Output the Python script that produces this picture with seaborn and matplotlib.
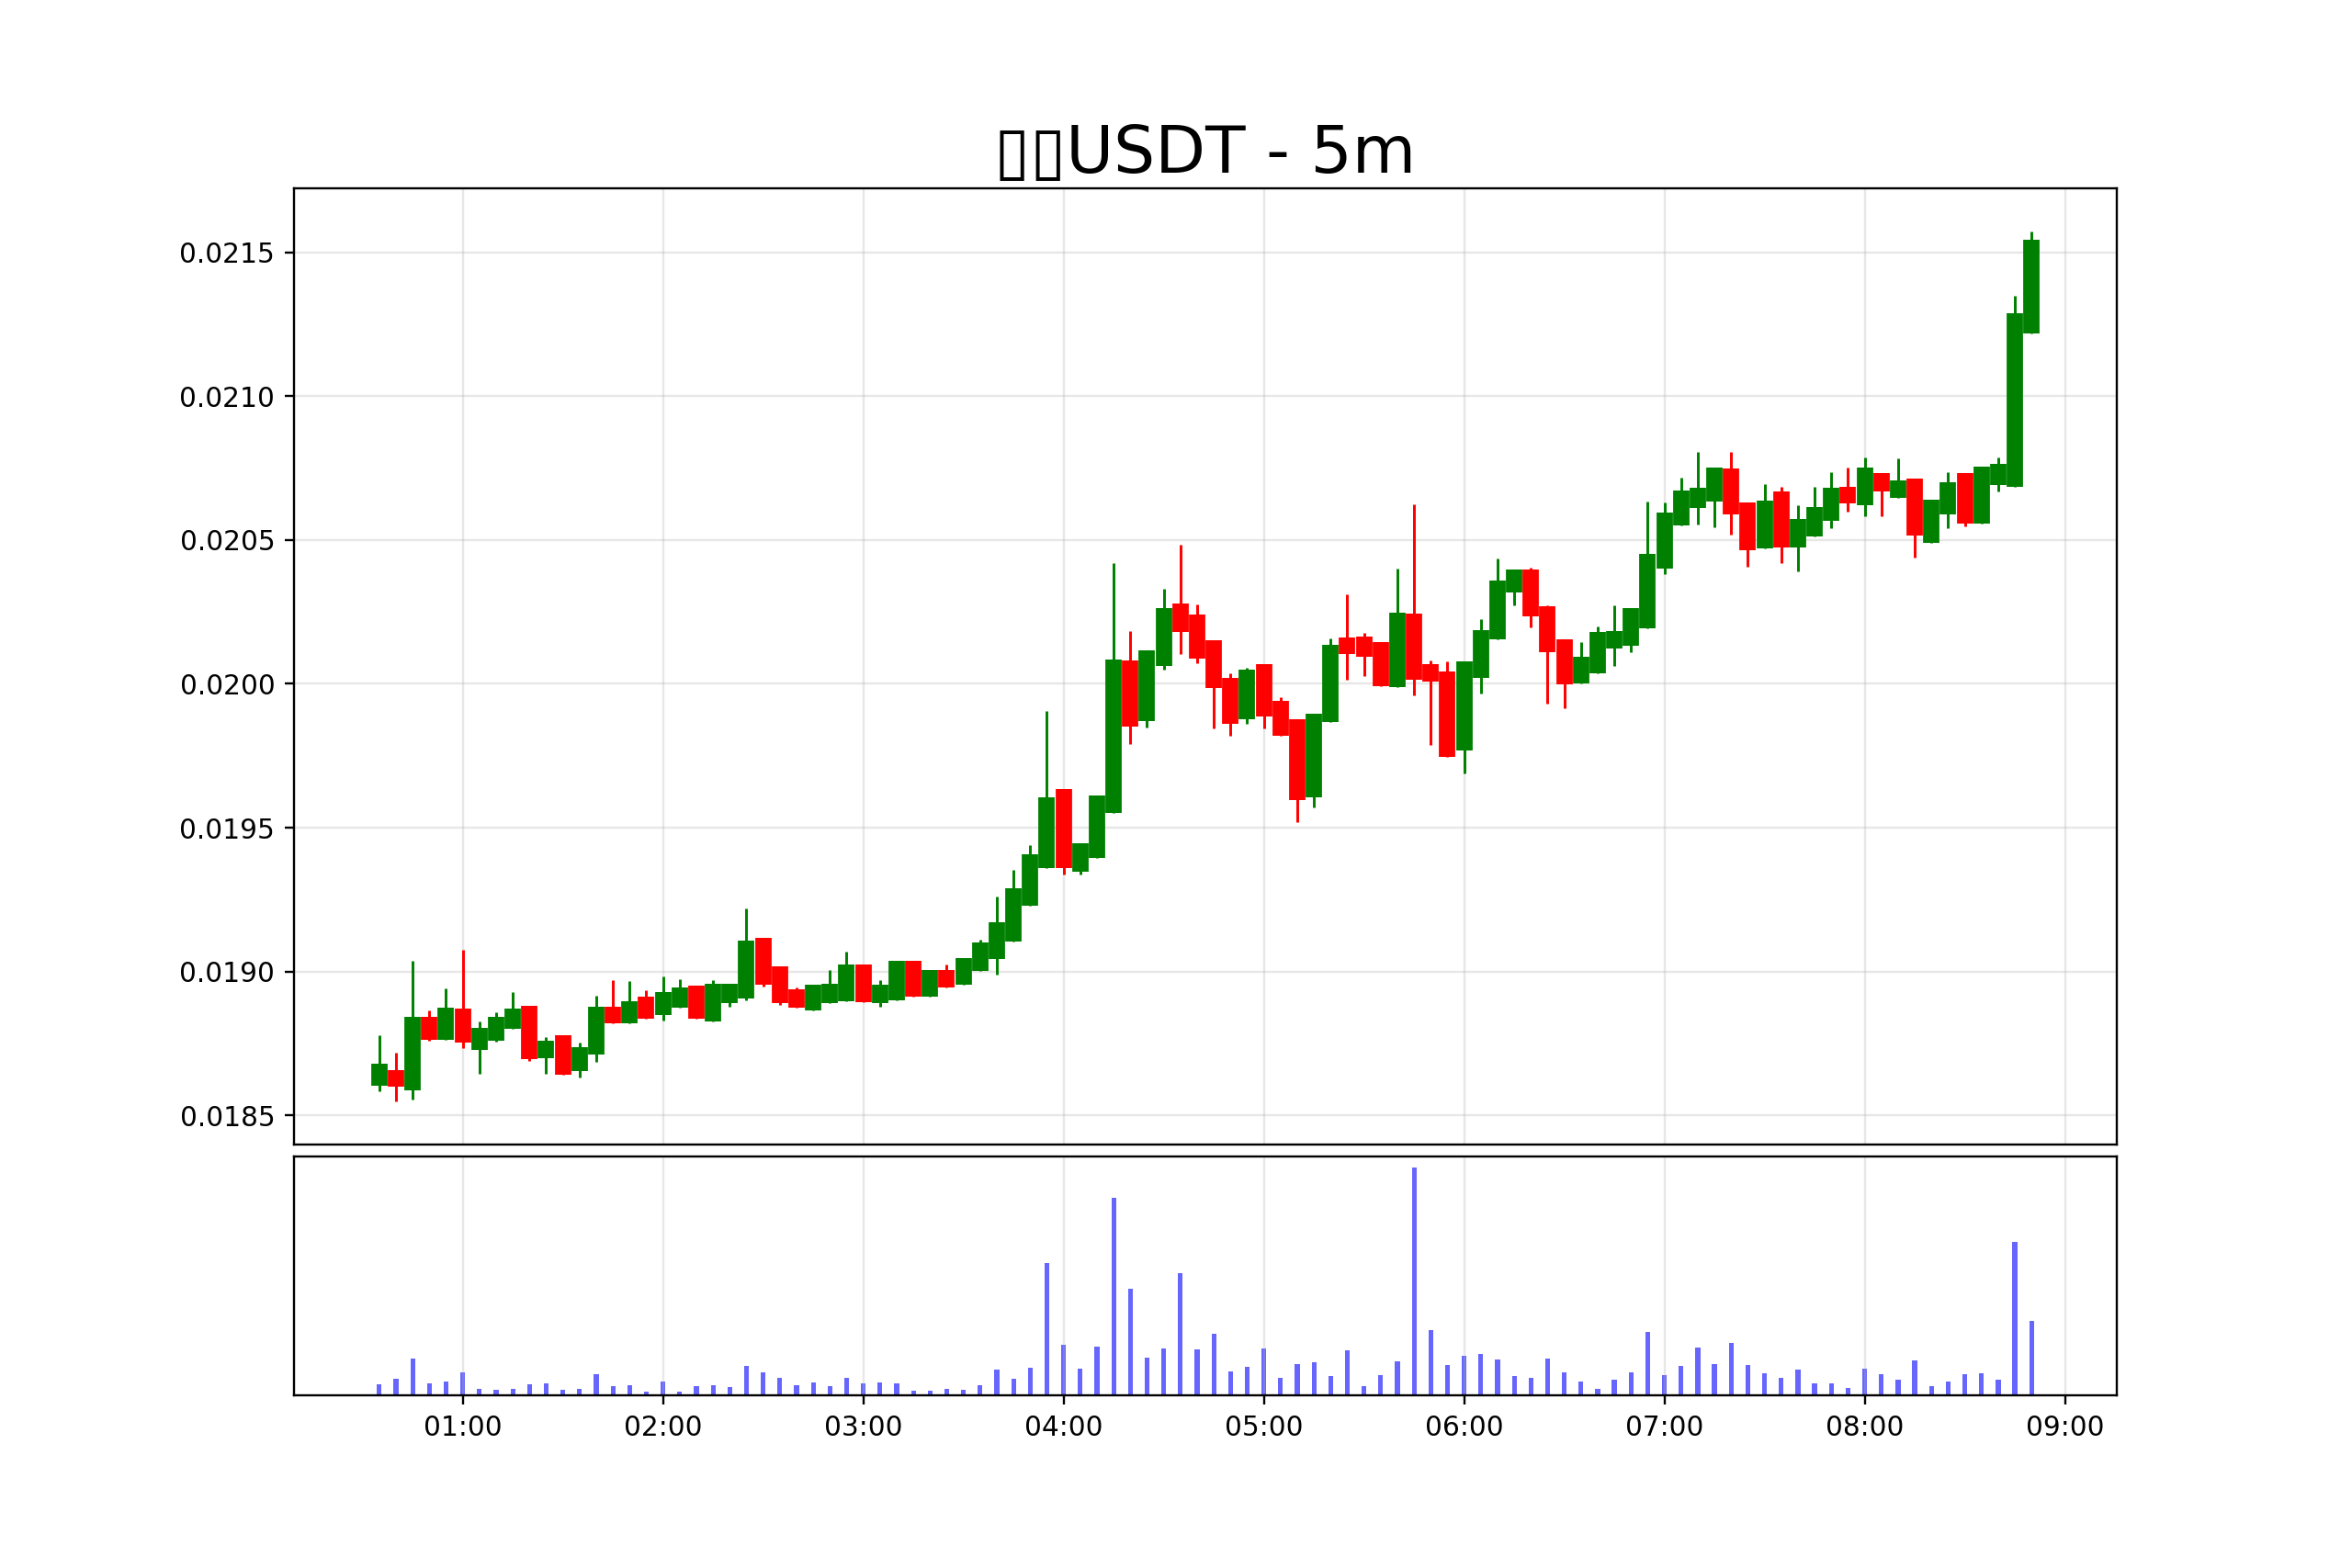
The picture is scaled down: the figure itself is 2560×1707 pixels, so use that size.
import matplotlib
matplotlib.use("Agg")
import matplotlib.pyplot as plt
import matplotlib.dates as mdates
import seaborn as sns
import numpy as np
import pandas as pd

# 5m candles, 00:35 -> 08:50
times = pd.date_range("2025-01-01 00:35", periods=100, freq="5min")

opens = [
    0.018602, 0.018658, 0.018587, 0.018841, 0.018762, 0.018872, 0.018728, 0.018758, 0.018801, 0.018882,
    0.018699, 0.018778, 0.018653, 0.018710, 0.018878, 0.018821, 0.018913, 0.018849, 0.018875, 0.018950,
    0.018825, 0.018889, 0.018905, 0.019118, 0.019017, 0.018939, 0.018866, 0.018891, 0.018898, 0.019024,
    0.018891, 0.018900, 0.019038, 0.018913, 0.019006, 0.018953, 0.019002, 0.019045, 0.019103, 0.019230,
    0.019359, 0.019634, 0.019346, 0.019396, 0.019552, 0.020082, 0.019870, 0.020061, 0.020280, 0.020240,
    0.020151, 0.020022, 0.019878, 0.020069, 0.019941, 0.019876, 0.019604, 0.019868, 0.020161, 0.020164,
    0.020146, 0.019989, 0.020243, 0.020069, 0.020043, 0.019768, 0.020020, 0.020155, 0.020318, 0.020397,
    0.020269, 0.020154, 0.020002, 0.020036, 0.020123, 0.020131, 0.020194, 0.020400, 0.020549, 0.020610,
    0.020634, 0.020748, 0.020631, 0.020472, 0.020667, 0.020475, 0.020511, 0.020567, 0.020684, 0.020621,
    0.020732, 0.020647, 0.020713, 0.020489, 0.020589, 0.020732, 0.020557, 0.020691, 0.020685, 0.021219,
]
highs = [
    0.018780, 0.018719, 0.019037, 0.018866, 0.018942, 0.019077, 0.018826, 0.018859, 0.018928, 0.018882,
    0.018771, 0.018778, 0.018753, 0.018915, 0.018969, 0.018967, 0.018935, 0.018984, 0.018974, 0.018950,
    0.018969, 0.018957, 0.019219, 0.019118, 0.019017, 0.018944, 0.018953, 0.019006, 0.019069, 0.019024,
    0.018970, 0.019038, 0.019038, 0.019006, 0.019024, 0.019046, 0.019110, 0.019261, 0.019352, 0.019438,
    0.019905, 0.019634, 0.019446, 0.019612, 0.020420, 0.020182, 0.020115, 0.020330, 0.020484, 0.020276,
    0.020151, 0.020038, 0.020054, 0.020069, 0.019954, 0.019876, 0.019895, 0.020157, 0.020310, 0.020177,
    0.020146, 0.020400, 0.020624, 0.020080, 0.020077, 0.020077, 0.020224, 0.020435, 0.020397, 0.020405,
    0.020274, 0.020154, 0.020144, 0.020199, 0.020274, 0.020263, 0.020635, 0.020629, 0.020715, 0.020805,
    0.020751, 0.020807, 0.020631, 0.020695, 0.020686, 0.020622, 0.020684, 0.020735, 0.020753, 0.020787,
    0.020732, 0.020785, 0.020713, 0.020639, 0.020737, 0.020732, 0.020754, 0.020787, 0.021349, 0.021572,
]
lows = [
    0.018583, 0.018550, 0.018555, 0.018758, 0.018762, 0.018733, 0.018646, 0.018756, 0.018801, 0.018688,
    0.018646, 0.018640, 0.018632, 0.018685, 0.018820, 0.018821, 0.018837, 0.018831, 0.018875, 0.018837,
    0.018825, 0.018876, 0.018899, 0.018947, 0.018883, 0.018873, 0.018866, 0.018891, 0.018898, 0.018892,
    0.018877, 0.018900, 0.018914, 0.018913, 0.018943, 0.018953, 0.019002, 0.018990, 0.019103, 0.019230,
    0.019359, 0.019337, 0.019337, 0.019396, 0.019552, 0.019791, 0.019849, 0.020050, 0.020104, 0.020073,
    0.019846, 0.019820, 0.019860, 0.019846, 0.019820, 0.019519, 0.019571, 0.019868, 0.020014, 0.020027,
    0.019991, 0.019989, 0.019960, 0.019789, 0.019746, 0.019690, 0.019966, 0.020155, 0.020274, 0.020197,
    0.019931, 0.019915, 0.020002, 0.020036, 0.020061, 0.020109, 0.020194, 0.020382, 0.020549, 0.020555,
    0.020545, 0.020518, 0.020406, 0.020472, 0.020421, 0.020390, 0.020511, 0.020540, 0.020599, 0.020583,
    0.020583, 0.020647, 0.020438, 0.020489, 0.020542, 0.020548, 0.020557, 0.020667, 0.020685, 0.021219,
]
closes = [
    0.018680, 0.018599, 0.018841, 0.018762, 0.018874, 0.018752, 0.018803, 0.018842, 0.018871, 0.018695,
    0.018760, 0.018640, 0.018737, 0.018878, 0.018820, 0.018898, 0.018837, 0.018928, 0.018944, 0.018837,
    0.018957, 0.018957, 0.019108, 0.018953, 0.018889, 0.018873, 0.018953, 0.018957, 0.019024, 0.018892,
    0.018954, 0.019037, 0.018914, 0.019006, 0.018943, 0.019046, 0.019101, 0.019171, 0.019290, 0.019407,
    0.019604, 0.019359, 0.019446, 0.019612, 0.020084, 0.019850, 0.020115, 0.020264, 0.020181, 0.020088,
    0.019984, 0.019860, 0.020050, 0.019886, 0.019820, 0.019595, 0.019895, 0.020137, 0.020102, 0.020095,
    0.019991, 0.020246, 0.020015, 0.020008, 0.019746, 0.020077, 0.020188, 0.020358, 0.020397, 0.020234,
    0.020110, 0.019998, 0.020093, 0.020179, 0.020182, 0.020263, 0.020453, 0.020595, 0.020673, 0.020682,
    0.020751, 0.020588, 0.020465, 0.020636, 0.020475, 0.020572, 0.020614, 0.020681, 0.020626, 0.020751,
    0.020667, 0.020706, 0.020516, 0.020639, 0.020699, 0.020557, 0.020754, 0.020764, 0.021288, 0.021543,
]
# volume in arbitrary units (no axis labels on the panel)
volumes = [
    37, 54, 120, 39, 45, 77, 21, 18, 21, 36,
    39, 18, 21, 69, 32, 33, 12, 47, 12, 32,
    33, 27, 96, 77, 57, 33, 42, 32, 57, 39,
    42, 39, 17, 15, 21, 18, 33, 84, 54, 90,
    432, 165, 89, 159, 648, 350, 123, 153, 399, 150,
    201, 78, 93, 153, 57, 104, 108, 63, 147, 30,
    68, 111, 745, 213, 99, 129, 135, 119, 63, 57,
    120, 77, 47, 23, 51, 77, 209, 66, 96, 156,
    104, 171, 99, 72, 57, 84, 39, 39, 24, 87,
    69, 53, 114, 30, 45, 69, 72, 53, 503, 245,
]

title = "\u25af\u25afUSDT - 5m"

x = mdates.date2num(times)
o = np.array(opens)
c = np.array(closes)
colors = np.where(c >= o, "green", "red")

fig, (ax1, ax2) = plt.subplots(
    2, 1, figsize=(12, 8.002), sharex=True,
    gridspec_kw={"height_ratios": [4, 1], "hspace": 0.02},
)

# candles: wick + thick body
ax1.vlines(x, lows, highs, color=colors, linewidth=1)
ax1.vlines(x, opens, closes, color=colors, linewidth=6)
ax1.set_title(title, fontsize=24)
ax1.grid(True, alpha=0.3)
ax1.tick_params(axis="x", bottom=False, labelbottom=False)

# volume
bar_width = 0.001  # days
sns.barplot(
    x=x, y=volumes, native_scale=True, orient="x",
    width=bar_width / np.diff(x).min(),
    color="blue", saturation=1, alpha=0.6, linewidth=0,
    errorbar=None, ax=ax2,
)
ax2.set_xlabel("")
ax2.set_ylabel("")
ax2.set_yticks([])
ax2.grid(True, alpha=0.3)
ax2.xaxis.set_major_locator(mdates.HourLocator())
ax2.xaxis.set_major_formatter(mdates.DateFormatter("%H:%M"))

fig.savefig("out.png", dpi=213.34)
